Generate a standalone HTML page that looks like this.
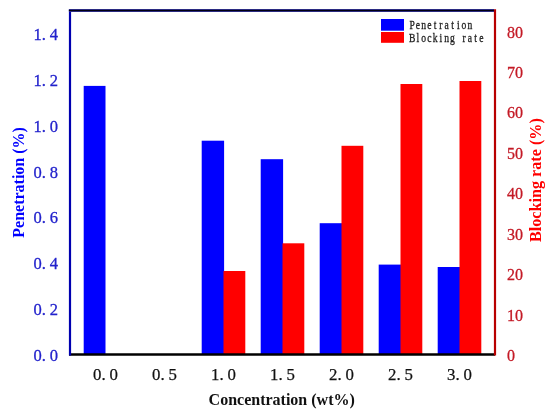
<!DOCTYPE html>
<html><head><meta charset="utf-8"><style>
html,body{margin:0;padding:0;background:#fff;width:550px;height:412px;overflow:hidden}
svg{display:block}
.tl{font-family:"Liberation Serif","Noto Serif CJK SC",serif;font-size:16.5px;fill:#2222cc;stroke:#2222cc;stroke-width:0.3px}
.tr{font-family:"Liberation Serif","Noto Serif CJK SC",serif;font-size:16px;fill:#c41a26;stroke:#c41a26;stroke-width:0.3px}
.tx{font-family:"Liberation Serif","Noto Serif CJK SC",serif;font-size:16.8px;fill:#111;stroke:#111;stroke-width:0.25px}
.lg{font-family:"Liberation Serif","Noto Serif CJK SC",serif;font-size:12px;fill:#222;stroke:#222;stroke-width:0.3px}
.lab{font-family:"Liberation Serif",serif;font-size:16px;font-weight:bold}
</style></head><body>
<svg width="550" height="412" viewBox="0 0 550 412">
<rect width="550" height="412" fill="#fff"/>
<!-- bars: blue -->
<g fill="#0000ff">
<rect x="83.7" y="85.9" width="21.8" height="268.5"/>
<rect x="201.7" y="140.7" width="22.4" height="213.7"/>
<rect x="260.7" y="159.2" width="22.4" height="195.2"/>
<rect x="319.7" y="223.2" width="22.4" height="131.2"/>
<rect x="378.7" y="264.6" width="22.4" height="89.8"/>
<rect x="437.7" y="267" width="22.4" height="87.4"/>
</g>
<g fill="#ff0000">
<rect x="223.5" y="271" width="21.8" height="83.4"/>
<rect x="282.5" y="243.3" width="21.8" height="111.1"/>
<rect x="341.5" y="145.8" width="21.8" height="208.6"/>
<rect x="400.5" y="84" width="21.8" height="270.4"/>
<rect x="459.5" y="81" width="21.8" height="273.4"/>
</g>
<!-- spines -->
<line x1="69" y1="354.5" x2="495" y2="354.5" stroke="#000" stroke-width="2.4"/>
<line x1="70" y1="9.3" x2="70" y2="355.6" stroke="#0000b0" stroke-width="2.2"/>
<line x1="68.9" y1="10.5" x2="494" y2="10.5" stroke="#3a3aa8" stroke-width="2.8"/>
<line x1="68.9" y1="10.5" x2="494" y2="10.5" stroke="#000010" stroke-width="1.4"/>
<line x1="495" y1="9.3" x2="495" y2="355.6" stroke="#b80000" stroke-width="2.2"/>
<!-- legend -->
<rect x="381" y="19" width="23" height="11.7" fill="#0000ff"/>
<rect x="381" y="32" width="23" height="10.8" fill="#ff0000"/>
<g transform="translate(412.1,28.9) scale(0.8,1)"><text class="lg" x="0.00 7.21 14.42 21.64 28.85 36.06 43.27 50.49 57.70 64.91 72.12" y="0" text-anchor="middle">Penetration</text></g>
<g transform="translate(412.1,41.5) scale(0.8,1)"><text class="lg" x="0.00 7.21 14.42 21.64 28.85 36.06 43.27 50.49 57.70 64.91 72.12 79.34 86.55" y="0" text-anchor="middle">Blocking rate</text></g>
<!-- left ticks -->
<g class="tl" text-anchor="end">
<text x="58" y="40.1">1.<tspan dx="4">4</tspan></text>
<text x="58" y="85.9">1.<tspan dx="4">2</tspan></text>
<text x="58" y="131.8">1.<tspan dx="4">0</tspan></text>
<text x="58" y="177.6">0.<tspan dx="4">8</tspan></text>
<text x="58" y="223.4">0.<tspan dx="4">6</tspan></text>
<text x="58" y="269.2">0.<tspan dx="4">4</tspan></text>
<text x="58" y="315.1">0.<tspan dx="4">2</tspan></text>
<text x="58" y="360.9">0.<tspan dx="4">0</tspan></text>
</g>
<!-- right ticks -->
<g class="tr">
<text x="507" y="37.5">80</text>
<text x="507" y="77.9">70</text>
<text x="507" y="118.4">60</text>
<text x="507" y="158.8">50</text>
<text x="507" y="199.3">40</text>
<text x="507" y="239.7">30</text>
<text x="507" y="280.1">20</text>
<text x="507" y="320.6">10</text>
<text x="507" y="361.0">0</text>
</g>
<!-- x ticks -->
<g class="tx" text-anchor="middle">
<text x="105.5" y="379.5">0.<tspan dx="4">0</tspan></text>
<text x="164.5" y="379.5">0.<tspan dx="4">5</tspan></text>
<text x="223.5" y="379.5">1.<tspan dx="4">0</tspan></text>
<text x="282.5" y="379.5">1.<tspan dx="4">5</tspan></text>
<text x="341.5" y="379.5">2.<tspan dx="4">0</tspan></text>
<text x="400.5" y="379.5">2.<tspan dx="4">5</tspan></text>
<text x="459.5" y="379.5">3.<tspan dx="4">0</tspan></text>
</g>
<!-- axis labels -->
<text class="lab" x="281.7" y="404.7" text-anchor="middle" fill="#111">Concentration (wt%)</text>
<text class="lab" transform="translate(23.7,182.4) rotate(-90)" text-anchor="middle" fill="#0000ff">Penetration (%)</text>
<text class="lab" transform="translate(541,180.1) rotate(-90)" text-anchor="middle" fill="#ff0000" style="font-size:16.15px">Blocking rate (%)</text>
</svg>
</body></html>
